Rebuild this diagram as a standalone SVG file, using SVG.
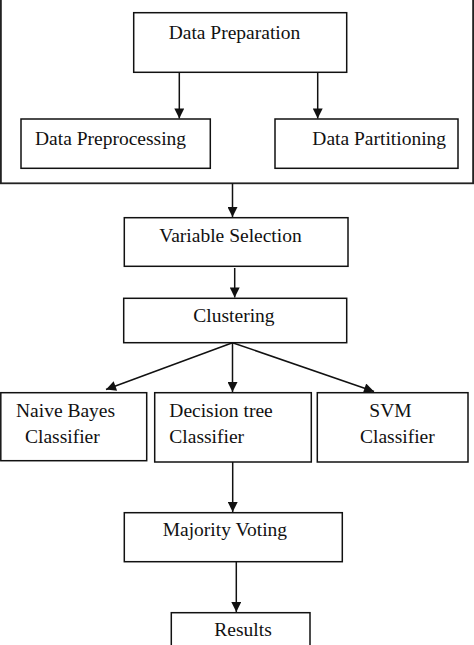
<svg xmlns="http://www.w3.org/2000/svg" width="474" height="645" viewBox="0 0 474 645">
<defs>
<style>
.box{fill:#fff;stroke:#111;stroke-width:1.5}
.outer{fill:#fff;stroke:#222;stroke-width:1.8}
.lbl{font-family:"Liberation Serif","Times New Roman",serif;font-size:19.5px;fill:#111}
.con{stroke:#111;stroke-width:1.5;fill:none}
</style>
<marker id="ah" viewBox="0 0 10 10" refX="10" refY="5" markerUnits="userSpaceOnUse" markerWidth="11" markerHeight="10" orient="auto">
<path d="M0,0 L10,5 L0,10 z" fill="#111"/>
</marker>
</defs>
<rect width="474" height="645" fill="#fff"/>
<g id="group-data-preparation">
<rect class="outer" x="0.9" y="-5" width="472.2" height="188.3"/>
</g>
<g id="node-data-preparation">
<rect class="box" x="133.7" y="12.7" width="213" height="59.6"/>
<text class="lbl" x="168.7" y="39">Data Preparation</text>
</g>
<g id="node-data-preprocessing">
<rect class="box" x="21" y="119" width="189.3" height="49.3"/>
<text class="lbl" x="35" y="145">Data Preprocessing</text>
</g>
<g id="node-data-partitioning">
<rect class="box" x="275" y="119" width="183" height="49.3"/>
<text class="lbl" x="312.3" y="145">Data Partitioning</text>
</g>
<g id="node-variable-selection">
<rect class="box" x="124.3" y="217.7" width="223.7" height="48.6"/>
<text class="lbl" x="159.3" y="242.3">Variable Selection</text>
</g>
<g id="node-clustering">
<rect class="box" x="123.7" y="298.3" width="223" height="44.4"/>
<text class="lbl" x="193.3" y="322">Clustering</text>
</g>
<g id="node-naive-bayes">
<rect class="box" x="0.8" y="392.7" width="145.9" height="68"/>
<text class="lbl" x="16" y="417.3">Naive Bayes</text>
<text class="lbl" x="25" y="443.3">Classifier</text>
</g>
<g id="node-decision-tree">
<rect class="box" x="154.7" y="392.7" width="156.6" height="69.3"/>
<text class="lbl" x="169.3" y="416.7">Decision tree</text>
<text class="lbl" x="169.3" y="443.3">Classifier</text>
</g>
<g id="node-svm">
<rect class="box" x="317.3" y="392.7" width="150.7" height="69.3"/>
<text class="lbl" x="369.3" y="416.7">SVM</text>
<text class="lbl" x="360" y="443.3">Classifier</text>
</g>
<g id="node-majority-voting">
<rect class="box" x="124.3" y="512.7" width="218" height="49"/>
<text class="lbl" x="162.7" y="536">Majority Voting</text>
</g>
<g id="node-results">
<rect class="box" x="171.3" y="612.7" width="138.7" height="40"/>
<text class="lbl" x="214.3" y="635.7">Results</text>
</g>
<g id="connectors">
<line class="con" x1="179.3" y1="72.3" x2="179.3" y2="118.5" marker-end="url(#ah)"/>
<line class="con" x1="317.7" y1="72.3" x2="317.7" y2="118.5" marker-end="url(#ah)"/>
<line class="con" x1="232.5" y1="183.3" x2="232.5" y2="217" marker-end="url(#ah)"/>
<line class="con" x1="234.7" y1="268" x2="234.7" y2="297.5" marker-end="url(#ah)"/>
<line class="con" x1="232.5" y1="342.7" x2="106" y2="389.5" marker-end="url(#ah)"/>
<line class="con" x1="232.5" y1="342.7" x2="232.5" y2="392" marker-end="url(#ah)"/>
<line class="con" x1="232.5" y1="342.7" x2="374" y2="391.5" marker-end="url(#ah)"/>
<line class="con" x1="232.7" y1="462" x2="232.7" y2="512" marker-end="url(#ah)"/>
<line class="con" x1="236.3" y1="561.7" x2="236.3" y2="612" marker-end="url(#ah)"/>
</g>
</svg>
